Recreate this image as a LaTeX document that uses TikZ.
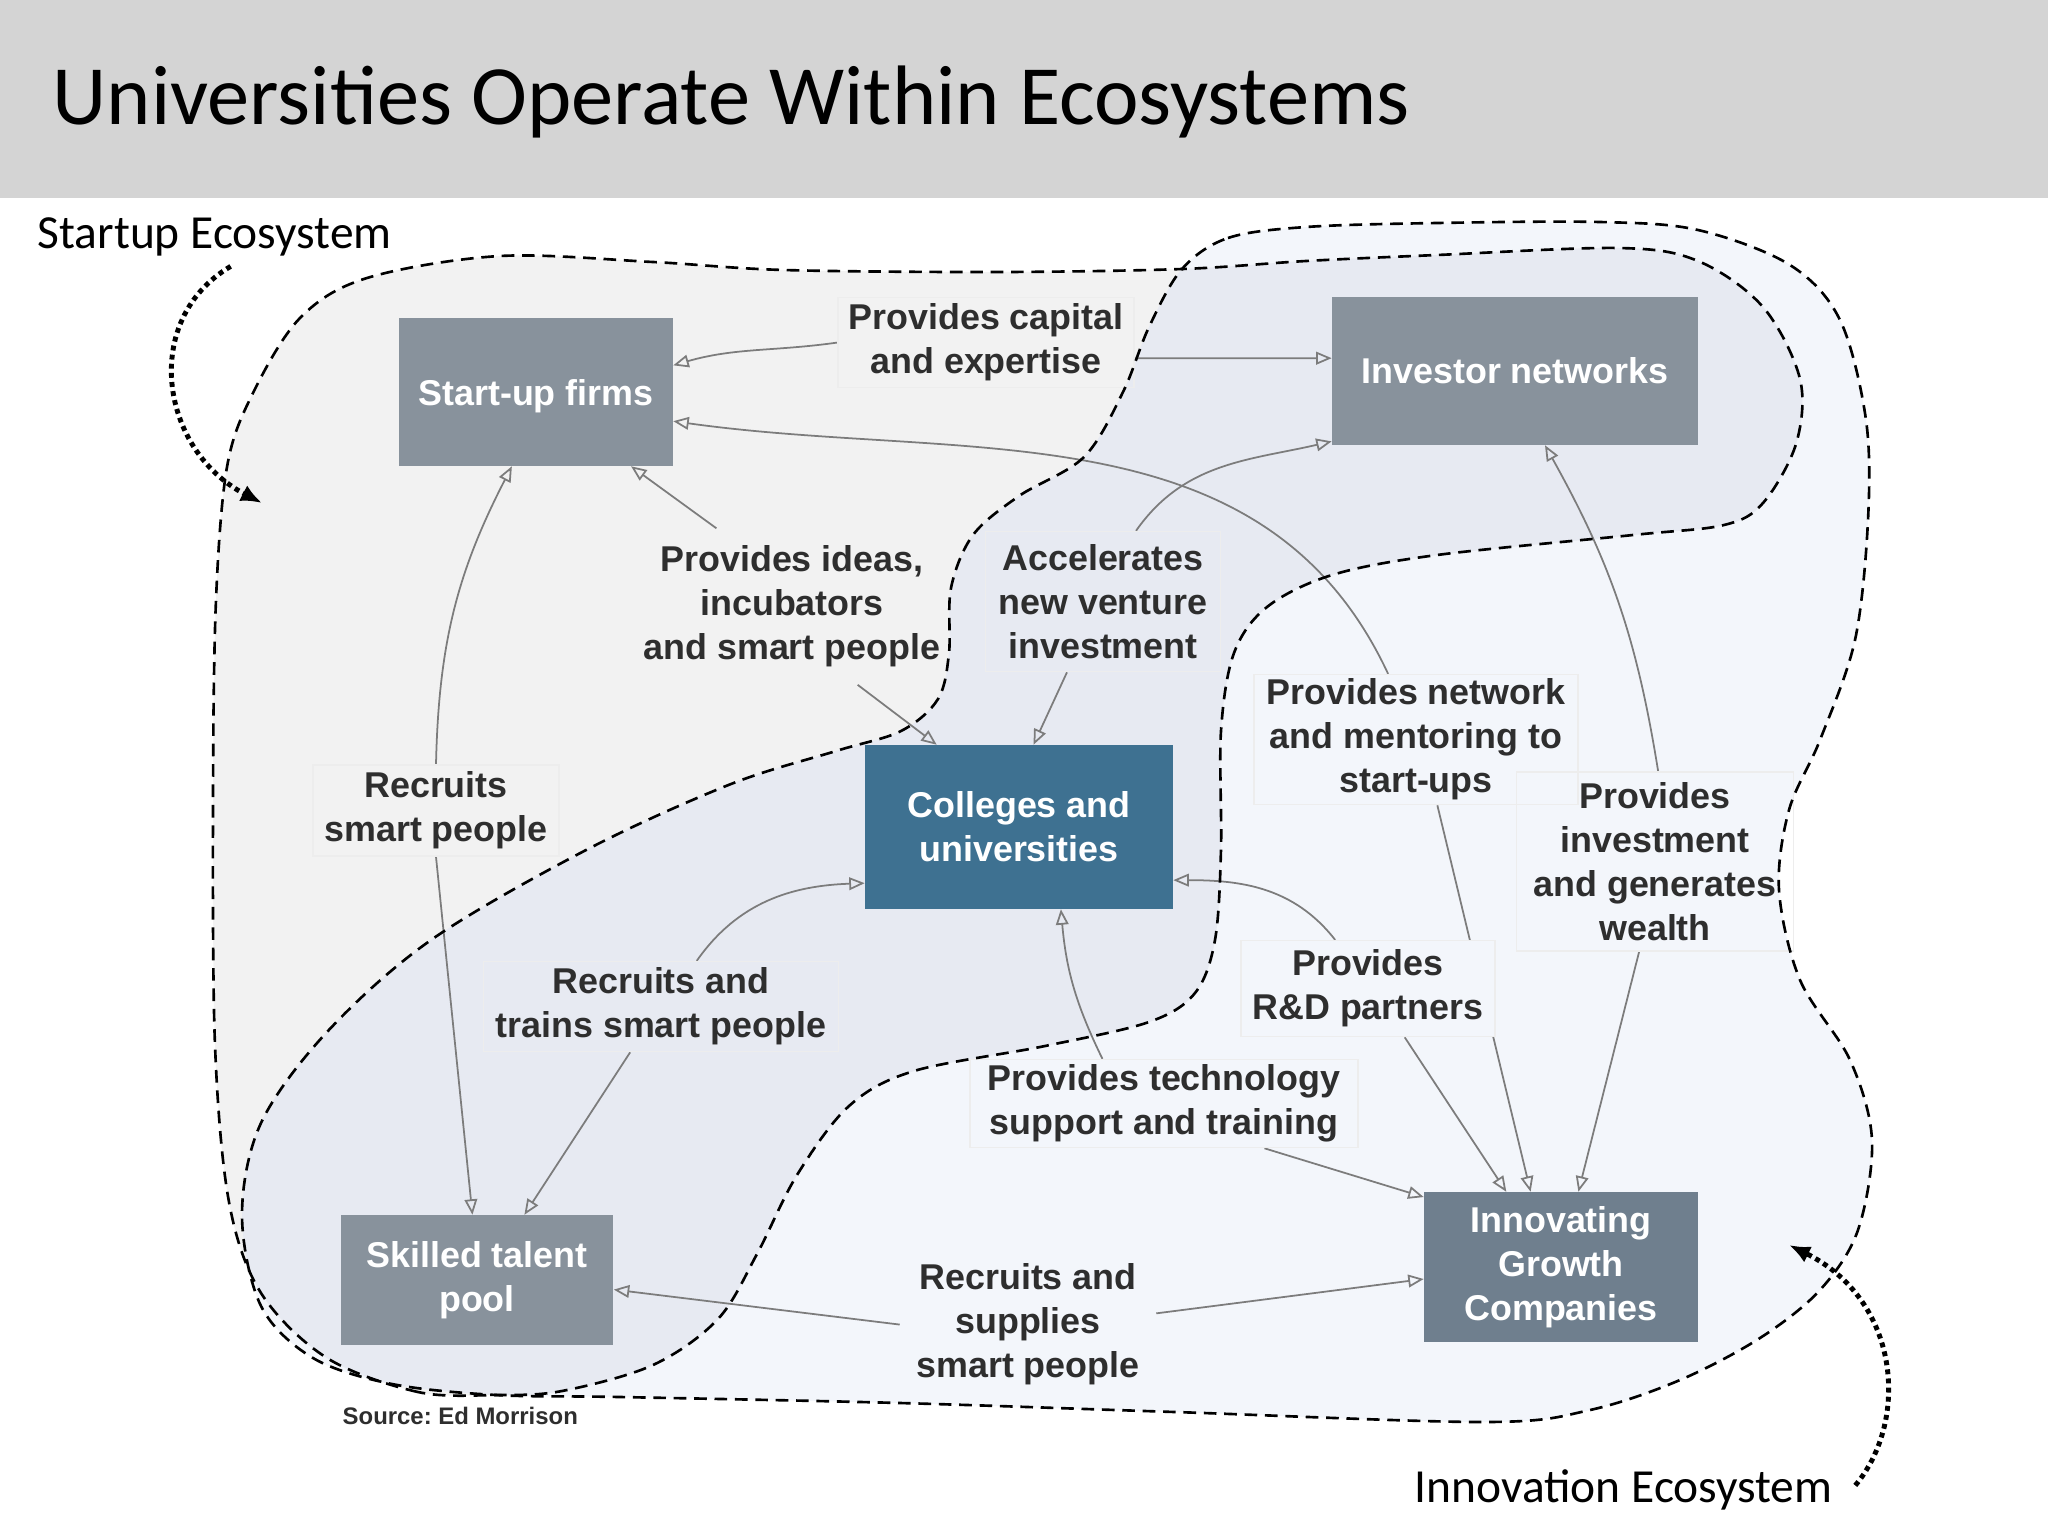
\documentclass[tikz,border=0pt]{standalone}
\usepackage{fontspec}
\setmainfont{Carlito}
\newfontfamily\diagfont{Liberation Sans}
\usepackage{tikz}
\usetikzlibrary{arrows.meta,calc,positioning,backgrounds}
\definecolor{titlegray}{HTML}{D4D4D4}
\definecolor{startupfill}{HTML}{F2F2F2}
\definecolor{innovfill}{HTML}{F3F6FB}
\definecolor{overlapfill}{HTML}{E7EAF2}
\definecolor{actorgray}{HTML}{88929C}
\definecolor{actorblue}{HTML}{3E7191}
\definecolor{actorslate}{HTML}{6F7F8E}
\definecolor{linkgray}{HTML}{7C7C7C}
\definecolor{textdark}{HTML}{2E2E2E}
\tikzset{
  actor/.style={fill=actorgray,text=white,font=\diagfont\bfseries\fontsize{10.2}{12.5}\selectfont,align=center,inner sep=0pt},
  flowtext/.style={draw=black!7,line width=0.4pt,text=textdark,font=\diagfont\bfseries\fontsize{10.2}{12.5}\selectfont,align=center,inner sep=0pt,yshift=-1.3pt},
  ecotext/.style={font=\fontsize{13.5}{16}\selectfont,inner sep=0pt,anchor=base west},
  link/.style={-{Triangle[open,length=4.4pt,width=3.6pt]},linkgray,line width=0.5pt},
  ecoline/.style={black,line width=0.75pt,dash pattern=on 3.6pt off 2.2pt},
  pointer/.style={-{Latex[length=6pt,width=5pt]},black,line width=1.4pt,dash pattern=on 1.4pt off 1.2pt}
}
\newcommand{\startupblob}{plot[smooth cycle,tension=0.55] coordinates {(496,1395) (418,1392) (327,1358) (261,1293) (229,1202) (215,1045) (213,800) (216,600) (227,467) (252,395) (300,318) (367,278) (500,256) (653,262) (784,270) (1000,272) (1182,269) (1306,261) (1437,255) (1619,248) (1698,261) (1763,307) (1800,379) (1796,444) (1763,503) (1724,525) (1633,535) (1437,555) (1332,575) (1267,607) (1234,653) (1221,731) (1221,849) (1215,940) (1195,993) (1149,1022) (1045,1046) (914,1071) (849,1106) (797,1175) (757,1254) (718,1319) (653,1365) (562,1391)}}
\newcommand{\innovblob}{plot[smooth cycle,tension=0.55] coordinates {(1182,269) (1228,238) (1306,227) (1437,223) (1600,222) (1698,230) (1790,265) (1840,320) (1866,420) (1868,520) (1855,640) (1820,740) (1789,810) (1779,890) (1800,980) (1850,1060) (1872,1140) (1858,1230) (1820,1290) (1760,1338) (1680,1380) (1590,1410) (1486,1422) (1175,1412) (900,1403) (620,1397) (496,1395) (392,1384) (313,1358) (261,1306) (242,1215) (261,1123) (327,1032) (431,940) (588,849) (731,784) (836,751) (901,731) (938,699) (949,653) (951,588) (973,535) (1019,496) (1084,457) (1123,392) (1149,327)}}

\begin{document}
\begin{tikzpicture}[x=0.01cm,y=-0.01cm]
  \useasboundingbox (0,0) rectangle (2048,1536);
  % slide title
  \fill[titlegray] (0,0) rectangle (2048,198);
  \node[anchor=base west,inner sep=0pt,font=\fontsize{24}{28}\selectfont] (title) at (52,124) {Universities Operate Within Ecosystems};

  % actors
  \node[actor,text depth=0pt,minimum width=2.73cm,minimum height=1.47cm] (startup) at (536,392) {Start-up firms};
  \node[actor,minimum width=3.65cm,minimum height=1.47cm] (investor) at (1515,371) {Investor networks};
  \node[actor,fill=actorblue,minimum width=3.07cm,minimum height=1.63cm] (college) at (1019,827) {Colleges and\\universities};
  \node[actor,minimum width=2.72cm,minimum height=1.29cm] (talent) at (477,1280) {Skilled talent\\pool};
  \node[actor,fill=actorslate,minimum width=2.73cm,minimum height=1.49cm] (growth) at (1561,1267) {Innovating\\Growth\\Companies};

  % flows
  \node[flowtext,minimum width=2.96cm,minimum height=0.90cm] (capital) at (986,338) {Provides capital\\and expertise};
  \node[flowtext,draw=none,minimum width=3.25cm,minimum height=1.55cm] (ideas) at (792,602) {Provides ideas,\\incubators\\and smart people};
  \node[flowtext,minimum width=2.35cm,minimum height=1.40cm] (accel) at (1103,597) {Accelerates\\new venture\\investment};
  \node[flowtext,minimum width=3.24cm,minimum height=1.30cm] (network) at (1416,735) {Provides network\\and mentoring to\\start-ups};
  \node[flowtext,minimum width=2.77cm,minimum height=1.79cm] (invest) at (1655,857) {Provides\\investment\\and generates\\wealth};
  \node[flowtext,minimum width=2.46cm,minimum height=0.91cm] (smart) at (436,806) {Recruits\\smart people};
  \node[flowtext,minimum width=3.55cm,minimum height=0.90cm] (trains) at (661,1002) {Recruits and\\trains smart people};
  \node[flowtext,fill=innovfill,minimum width=2.54cm,minimum height=0.96cm] (rnd) at (1368,984) {Provides\\R\&D partners};
  \node[flowtext,minimum width=3.88cm,minimum height=0.88cm] (tech) at (1164,1099) {Provides technology\\support and training};
  \node[flowtext,draw=none,minimum width=2.55cm,minimum height=1.41cm] (supplies) at (1028,1320) {Recruits and\\supplies\\smart people};

  \node[anchor=base west,inner sep=0pt,text=textdark,font=\diagfont\bfseries\fontsize{6.8}{8}\selectfont] (source) at (342,1424) {Source:\ Ed Morrison};

  \begin{pgfonlayer}{background}
    \fill[white] (0,198) rectangle (2048,1536);
    \fill[innovfill] \innovblob;
    \fill[startupfill] \startupblob;
    \begin{scope}
      \clip \startupblob;
      \fill[overlapfill] \innovblob;
    \end{scope}
    % connectors
    \foreach \src/\dst in {capital.-6/investor.176, ideas.134/startup.-38, ideas.-50/college.135,
        accel.-117/college.80, network.-72/growth.112, invest.-100/growth.77,
        smart.south/talent.94, trains.-124/talent.54, rnd.-53/growth.126,
        tech.-24/growth.153, supplies.5/growth.185, supplies.west/talent.-4}
      \draw[link] (\src) -- (\dst);
    \draw[link] (capital.west) to[out=188,in=16] (startup.11);
    \draw[link] (accel.65) to[out=55,in=193] (investor.201);
    \draw[link] (network.113) to[out=115,in=-8] (startup.-12);
    \draw[link] (invest.88) to[bend right=10] (investor.-68);
    \draw[link] (smart.north) to[bend left=13] (startup.-108);
    \draw[link] (trains.52) to[out=55,in=182] (college.200);
    \draw[link] (rnd.124) to[out=128,in=0] (college.-19);
    \draw[link] (tech.144) to[out=116,in=-85] (college.-63);
  \end{pgfonlayer}

  % ecosystem outlines
  \draw[ecoline] \startupblob;
  \draw[ecoline] \innovblob;

  \node[ecotext] (startlbl) at (37,248) {Startup Ecosystem};
  \node[ecotext] (innolbl) at (1414,1502) {Innovation Ecosystem};
  \coordinate (startmark) at (262,503);
  \coordinate (innomark) at (1789,1245);
  \draw[pointer] ($(startlbl.south)+(16,10)$) .. controls (140,320) and (160,450) .. (startmark);
  \draw[pointer] ($(innolbl.east)+(22,-4)$) .. controls (1910,1420) and (1900,1300) .. (innomark);
\end{tikzpicture}
\end{document}
